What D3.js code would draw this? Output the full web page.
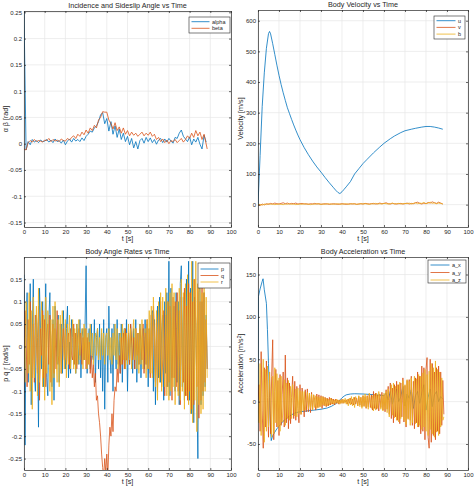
<!DOCTYPE html>
<html><head><meta charset="utf-8">
<script src="https://cdn.jsdelivr.net/npm/d3@7"></script>
<style>body{margin:0;background:#fff} text{font-family:"Liberation Sans",Arial,sans-serif;fill:#262626}</style>
</head><body><svg id="c" width="474" height="489"></svg>
<script>
// ---------- shared ----------
const xTicks = [0,10,20,30,40,50,60,70,80,90,100];
const colors = ["#0072BD","#D95319","#EDB120"];

// ---------- panel 1 : angles (1 s step) ----------
const angleStep = 1;
const alpha = [0.252,-0.012,0.004,-0.002,0.008,0.003,0.006,0.002,0.007,0.004,0.005,0.008,0.003,0.007,0.002,0.009,0.004,0.006,0.001,0.007,-0.002,0.005,0.009,0.003,0.01,0.005,0.008,0.004,0.011,0.006,0.014,0.018,0.024,0.022,0.03,0.034,0.042,0.055,0.059,0.038,0.048,0.024,0.042,0.018,0.034,0.012,0.028,0.008,0.02,0.004,0.014,-0.002,0.01,-0.008,0.004,-0.01,0.006,0.01,0.001,0.012,0.004,0.011,0.002,0.008,-0.001,0.007,0.01,0.002,0.009,0.003,0.01,0.005,0.001,0.012,0.01,0.02,0.026,0.014,0.009,0.004,0.013,-0.002,0.009,0.003,0.012,-0.001,-0.01,0.016,0.003];
const beta = [-0.01,-0.012,0.002,0.006,0.003,0.008,0.004,0.006,0.005,0.003,0.007,0.006,0.01,0.004,0.008,0.005,0.007,0.004,0.009,0.006,0.005,0.01,0.007,0.012,0.015,0.01,0.018,0.014,0.022,0.017,0.026,0.02,0.03,0.025,0.035,0.03,0.045,0.05,0.061,0.06,0.06,0.045,0.038,0.028,0.04,0.025,0.032,0.02,0.03,0.018,0.025,0.015,0.022,0.016,0.02,0.014,0.018,0.022,0.015,0.02,0.016,0.022,0.014,0.018,0.008,0.012,0.004,0.009,0.002,0.007,0.0,0.006,0.004,0.008,0.002,0.006,0.01,0.003,0.008,0.015,0.01,0.02,0.012,0.025,0.015,0.022,0.008,0.018,-0.01];
const angleYTicks = [-0.15,-0.1,-0.05,0,0.05,0.1,0.15,0.2,0.25];

// ---------- panel 2 : velocity ----------
const uTime = [0,1,2,3,4,5,5.5,6,7,8,9,10,11,12,13,14,15,16,17,18,19,20,22,24,26,28,30,32,34,36,37,38,39,40,41,42,44,46,48,50,52,55,58,60,63,65,68,70,73,75,78,80,82,84,86,88];
const uVel = [0,160,320,430,510,558,565,557,525,490,455,422,392,365,340,316,297,278,260,243,227,212,186,163,142,123,106,88,71,55,47,40,36,42,50,58,75,100,117,134,148,169,188,200,215,224,235,241,246,249,253,255,255,253,250,246];
const velStep = 1;
const vVel = [0,-3,2,-1,3,1,4,2,5,3,2,4,6,3,5,2,4,3,5,2,3,4,2,3,1,3,2,4,2,3,1,2,3,2,1,2,3,2,1,2,3,2,1,2,3,2,3,1,2,3,2,4,3,2,3,4,2,3,5,3,4,6,3,2,4,3,2,3,4,2,3,5,2,4,3,6,8,4,2,5,3,7,5,9,6,4,8,5,2];
const bVel = [0,1,-2,2,0,3,1,2,0,1,2,1,0,2,1,3,1,2,0,1,2,1,3,1,2,0,2,1,3,2,1,2,1,3,2,2,1,2,3,1,2,2,3,1,2,3,2,1,2,3,2,3,2,1,3,2,4,2,3,2,4,3,2,3,5,2,3,4,2,3,4,3,5,2,4,6,3,5,4,7,3,5,8,4,6,3,5,4,2];
const velYTicks = [0,100,200,300,400,500,600];

// ---------- panel 3 : angle rates (0.5 s step) ----------
const rateStep = 0.5;
const pRate = [0.16,-0.22,0.05,0.12,-0.08,-0.02,0.14,-0.13,0.03,0.15,
-0.06,-0.1,0.07,0.02,-0.18,0.13,0.04,-0.05,0.1,-0.09,
0.01,0.14,-0.07,-0.11,0.06,0.12,-0.03,-0.09,0.06,-0.12,
0.09,0.02,-0.04,0.07,-0.08,0.01,0.05,-0.06,0.08,-0.02,
-0.05,0.04,0.09,-0.07,0.01,-0.06,0.06,0.02,-0.04,0.03,
-0.06,0.05,0.01,-0.04,0.06,-0.07,0.02,0.04,-0.03,0.05,
0.18,-0.06,0.01,0.04,-0.05,0.05,-0.02,-0.03,0.06,-0.08,
0.02,0.04,-0.05,0.05,-0.07,0.03,-0.1,0.06,-0.14,0.02,
0.04,-0.08,0.09,-0.02,-0.06,0.04,-0.1,0.05,0.01,-0.05,
0.06,-0.04,0.03,-0.06,0.05,-0.08,0.02,0.04,-0.05,0.06,
-0.1,0.03,-0.04,0.05,0.01,-0.06,0.04,-0.05,0.06,-0.08,
0.03,-0.04,0.05,-0.07,0.02,0.04,-0.05,0.06,-0.04,0.05,
-0.09,0.04,-0.06,0.07,0.08,-0.1,0.06,-0.13,0.02,0.09,
-0.07,0.11,-0.08,0.03,0.07,-0.12,0.1,-0.06,0.12,-0.09,
0.19,-0.11,0.13,-0.07,0.02,0.09,-0.1,0.12,-0.08,0.1,
-0.13,0.14,0.18,-0.09,0.11,-0.12,-0.04,0.15,-0.1,0.19,
-0.12,0.13,-0.15,0.19,-0.17,0.11,0.05,-0.1,-0.25,0.12,
0.14,-0.13,0.1,-0.11,0.12,-0.09,0.07,-0.05];
const qRate = [-0.05,0.08,0.02,-0.09,0.06,-0.04,0.1,0.03,-0.07,0.05,
-0.08,0.07,0.01,-0.06,0.09,-0.12,0.04,-0.02,0.08,-0.07,
0.06,-0.09,0.03,0.05,-0.04,0.07,-0.08,0.02,0.05,-0.06,
0.04,-0.05,0.08,-0.02,-0.04,0.05,-0.06,0.01,0.04,-0.03,
0.05,-0.04,0.02,0.03,-0.05,0.04,-0.02,-0.03,0.05,-0.04,
0.03,-0.05,0.02,0.04,-0.02,0.03,-0.04,0.02,-0.03,0.04,
-0.05,0.02,-0.04,0.01,-0.06,-0.02,-0.07,-0.04,-0.09,-0.06,
-0.12,-0.11,-0.15,-0.17,-0.2,-0.24,-0.27,-0.29,-0.25,-0.28,
-0.24,-0.29,-0.22,-0.18,-0.2,-0.15,-0.19,-0.12,-0.09,-0.1,
-0.05,-0.08,-0.02,-0.06,0.02,-0.04,0.03,-0.05,0.04,-0.03,
-0.03,0.03,-0.04,0.05,0.01,-0.03,0.02,-0.05,0.04,-0.02,
0.03,-0.04,0.04,0.01,-0.03,0.05,-0.06,0.03,-0.04,0.06,
-0.05,0.04,-0.07,0.07,-0.06,0.09,0.02,-0.08,0.06,-0.1,
0.08,-0.07,0.1,-0.09,-0.03,0.08,-0.11,0.07,-0.09,0.1,
-0.08,0.09,0.03,-0.12,0.11,-0.07,0.1,-0.09,0.12,-0.1,
0.08,-0.13,0.11,-0.04,-0.08,0.13,-0.11,0.09,-0.12,0.14,
-0.1,0.12,-0.14,0.1,-0.13,0.15,0.04,-0.09,0.13,-0.16,
0.1,-0.12,0.14,-0.1,0.12,-0.08,0.06,-0.05];
const rRate = [0.02,-0.08,0.1,0.04,-0.06,0.12,-0.1,0.08,-0.14,0.11,
-0.07,0.02,0.09,-0.11,0.13,-0.08,-0.02,0.1,-0.09,0.07,
-0.12,0.11,-0.06,0.08,0.03,-0.1,0.06,-0.13,0.09,-0.07,
0.1,-0.02,-0.08,0.06,-0.09,0.07,-0.06,0.08,0.01,-0.05,
0.06,-0.07,0.05,-0.04,0.07,-0.05,0.01,0.06,-0.05,0.04,
-0.06,0.05,-0.04,0.06,-0.03,0.02,0.04,-0.05,0.05,-0.03,
0.04,-0.05,0.03,-0.04,0.05,-0.02,0.03,-0.04,0.01,0.03,
-0.02,0.04,-0.03,0.02,-0.03,0.04,-0.02,0.03,-0.04,0.02,
0.03,-0.02,0.04,-0.03,0.02,-0.04,0.03,-0.02,0.05,-0.03,
0.04,-0.05,0.01,0.03,-0.04,0.05,-0.03,0.04,-0.05,0.03,
-0.04,0.05,-0.03,0.04,-0.05,0.03,0.06,-0.03,0.04,-0.05,
0.03,-0.06,0.05,-0.04,0.06,-0.05,0.02,0.04,-0.07,0.06,
-0.05,0.08,-0.06,0.09,-0.07,0.11,0.03,-0.09,0.08,-0.12,
0.1,-0.08,0.12,-0.1,0.11,-0.03,-0.09,0.13,-0.11,0.1,
-0.12,0.12,-0.1,0.14,-0.09,0.12,-0.13,0.04,0.1,-0.11,
0.13,-0.12,0.15,-0.1,0.12,-0.14,0.14,-0.11,0.16,-0.13,
0.12,-0.15,0.19,-0.17,0.15,-0.12,0.19,-0.19,0.14,-0.13,
0.16,-0.15,0.12,-0.14,0.13,-0.1,0.11,-0.07];
const rateYTicks = [-0.25,-0.2,-0.15,-0.1,-0.05,0,0.05,0.1,0.15];

// ---------- panel 4 : acceleration ----------
const axTime = [0,0.2,1,2,2.4,3,4,4.5,5,5.5,6,6.3,7,8,9,10,11,12,14,16,18,20,25,30,33,35,37,38,39,40,41,42,44,46,50,55,60,61,62,63,64,65,66,67,68,69,70,71,72,73,74,75,76,77,78,79,80,81,82,83,84,85,86,87,88];
const axAcc = [0,124,133,142,145,132,116,85,45,5,-35,-46,-40,-36,-32,-29,-26,-23,-19,-15.5,-13,-12,-10.5,-9,-7.5,-5.5,-2.5,-0.5,2,4.5,6.5,8,9,9.3,9,8.3,7,10,2,12,-3,8,15,0,6,18,-5,9,4,14,-8,7,12,-2,10,20,-10,5,15,-6,8,12,0,6,3];
const accStep = 0.5;
const ayAcc = [0,20,-35,59,-10,-55,40,-30,48,5,
-42,35,-38,30,73,-45,12,38,-30,25,
-40,32,-28,8,35,-30,55,-25,28,-32,
22,-26,5,30,-20,24,-22,18,-8,-25,
20,-15,16,3,-18,14,-12,15,-12,10,
-13,11,-9,8,2,-10,9,-7,8,-6,
7,-8,6,-5,5,-6,4,-5,5,-4,
4,-3,3,-4,3,-2,2,-3,2,-2,
3,-2,2,-1,2,-3,3,-2,4,-3,
3,-4,5,-3,4,-5,6,-4,5,-6,
7,-5,6,-8,7,-6,9,-7,8,-10,
12,-8,10,-9,8,-11,9,-7,11,-10,
8,-12,14,-9,18,-15,22,-20,16,-25,
20,-18,24,-22,20,-26,22,-18,28,-24,
19,-30,25,-20,26,-22,30,-28,24,-32,
28,-25,35,-30,30,-38,42,-35,40,-45,
38,52,-42,-55,50,-48,45,-40,35,-45,
40,-35,42,-38,35,-28,25,-15];
const azAcc = [0,-25,45,-40,8,50,-48,38,-35,42,
-30,35,5,-42,30,-38,40,-25,33,-30,
28,-35,30,-24,-5,26,-28,22,-20,25,
-22,18,-20,20,3,-17,15,-18,16,-14,
13,-15,12,-11,12,-10,2,11,-9,10,
-8,9,-10,8,-7,7,-8,6,-7,5,
-6,6,-4,5,-5,4,-5,3,-4,4,
-3,3,-3,2,-2,3,-2,2,-3,2,
-2,3,-2,4,-3,3,-5,4,-4,6,
-5,5,-7,6,1,-5,7,-6,5,-8,
7,-6,9,-7,6,-9,10,2,-8,7,
-11,9,-10,10,-8,12,3,-9,8,-11,
10,-9,12,-13,15,-18,4,20,-16,22,
-19,18,-22,20,-24,23,-20,5,25,-22,
20,-27,26,-21,24,-28,28,-25,6,30,
-26,27,-30,32,-28,30,-33,34,-30,38,
-35,32,-40,36,-33,45,-38,40,-42,48,
-36,38,-40,35,-30,28,-22,-18];
const accYTicks = [-50,0,50,100,150];

// ---------- drawing ----------
const svg = d3.select("#c");
const fmt = d => String(+(+d).toFixed(4));
const stepTimes = (arr, step) => arr.map((_, i) => i * step);
let clipId = 0;

function panel(o) {
  const x = d3.scaleLinear().domain([0, 100]).range([o.left, o.right]);
  const y = d3.scaleLinear().domain(o.yDomain).range([o.bottom, o.top]);
  const g = svg.append("g");
  // grid
  g.append("g").selectAll("line").data(xTicks).join("line")
    .attr("x1", d => x(d)).attr("x2", d => x(d)).attr("y1", o.top).attr("y2", o.bottom)
    .attr("stroke", "#e6e6e6").attr("stroke-width", 0.7);
  g.append("g").selectAll("line").data(o.yTicks).join("line")
    .attr("y1", d => y(d)).attr("y2", d => y(d)).attr("x1", o.left).attr("x2", o.right)
    .attr("stroke", "#e6e6e6").attr("stroke-width", 0.7);
  // data
  const id = "clip" + (clipId++);
  svg.append("clipPath").attr("id", id).append("rect")
    .attr("x", o.left).attr("y", o.top).attr("width", o.right - o.left).attr("height", o.bottom - o.top);
  const dg = g.append("g").attr("clip-path", `url(#${id})`);
  o.series.forEach(s => {
    const pts = s.y.map((v, i) => [s.t[i], v]);
    dg.append("path").datum(pts)
      .attr("d", d3.line().x(d => x(d[0])).y(d => y(d[1])))
      .attr("fill", "none").attr("stroke", s.color).attr("stroke-width", 0.8)
      .attr("stroke-linejoin", "round");
  });
  // axes
  const styleAxis = sel => {
    sel.select(".domain").attr("stroke", "#262626").attr("stroke-width", 0.7);
    sel.selectAll(".tick line").attr("stroke", "#262626").attr("stroke-width", 0.7);
    sel.selectAll("text").attr("font-size", 6).attr("font-family", "Liberation Sans, Arial, sans-serif").attr("fill", "#262626");
  };
  g.append("g").attr("transform", `translate(0,${o.bottom})`)
    .call(d3.axisBottom(x).tickValues(xTicks).tickFormat(fmt).tickSizeInner(-2).tickSizeOuter(0).tickPadding(2.5)).call(styleAxis);
  g.append("g").attr("transform", `translate(0,${o.top})`)
    .call(d3.axisTop(x).tickValues(xTicks).tickFormat("").tickSizeInner(-2).tickSizeOuter(0)).call(styleAxis);
  g.append("g").attr("transform", `translate(${o.left},0)`)
    .call(d3.axisLeft(y).tickValues(o.yTicks).tickFormat(fmt).tickSizeInner(-2).tickSizeOuter(0).tickPadding(2)).call(styleAxis);
  g.append("g").attr("transform", `translate(${o.right},0)`)
    .call(d3.axisRight(y).tickValues(o.yTicks).tickFormat("").tickSizeInner(-2).tickSizeOuter(0)).call(styleAxis);
  // title & labels
  const cx = (o.left + o.right) / 2;
  g.append("text").attr("x", cx).attr("y", o.top - 3).attr("text-anchor", "middle")
    .attr("font-size", 7.2).text(o.title);
  g.append("text").attr("x", cx).attr("y", o.bottom + 14).attr("text-anchor", "middle")
    .attr("font-size", 7.2).text("t [s]");
  const yl = g.append("text").attr("transform", `translate(${o.ylabelX},${(o.top + o.bottom) / 2}) rotate(-90)`)
    .attr("text-anchor", "middle").attr("font-size", 7.2);
  o.ylabel(yl);
  // legend
  const L = o.legend;
  const lg = g.append("g");
  lg.append("rect").attr("x", L.x).attr("y", L.y).attr("width", L.w).attr("height", L.h)
    .attr("fill", "#fff").attr("stroke", "#262626").attr("stroke-width", 0.6);
  L.labels.forEach((lab, i) => {
    const yy = L.y + L.pad + i * L.dy;
    lg.append("line").attr("x1", L.x + 2.5).attr("x2", L.x + 2.5 + L.len).attr("y1", yy).attr("y2", yy)
      .attr("stroke", colors[i]).attr("stroke-width", 0.8);
    lg.append("text").attr("x", L.x + 5 + L.len).attr("y", yy + 2).attr("font-size", 5.5).text(lab);
  });
}

panel({
  left: 24, right: 231, top: 11, bottom: 227, yDomain: [-0.1585, 0.2525], yTicks: angleYTicks,
  title: "Incidence and Sideslip Angle vs Time", ylabelX: 8,
  ylabel: t => t.text("\u03b1  \u03b2 [rad]"),
  series: [
    {t: stepTimes(alpha, angleStep), y: alpha, color: colors[0]},
    {t: stepTimes(beta, angleStep).map((v, i) => i === beta.length - 1 ? 88.5 : v), y: beta, color: colors[1]}
  ],
  legend: {x: 189, y: 17, w: 41, h: 16, pad: 4.7, dy: 6.6, len: 18, labels: ["alpha", "beta"]}
});

panel({
  left: 258, right: 468, top: 10, bottom: 227, yDomain: [-73, 635], yTicks: velYTicks,
  title: "Body Velocity vs Time", ylabelX: 243,
  ylabel: t => t.text("Velocity [m/s]"),
  series: [
    {t: uTime, y: uVel, color: colors[0]},
    {t: stepTimes(vVel, velStep), y: vVel, color: colors[1]},
    {t: stepTimes(bVel, velStep), y: bVel, color: colors[2]}
  ],
  legend: {x: 434, y: 16, w: 31, h: 23, pad: 4.7, dy: 6.7, len: 19, labels: ["u", "v", "b"]}
});

panel({
  left: 24, right: 231, top: 257, bottom: 470, yDomain: [-0.2755, 0.1995], yTicks: rateYTicks,
  title: "Body Angle Rates vs Time", ylabelX: 8,
  ylabel: t => t.text("p q r [rad/s]"),
  series: [
    {t: stepTimes(pRate, rateStep), y: pRate, color: colors[0]},
    {t: stepTimes(qRate, rateStep), y: qRate, color: colors[1]},
    {t: stepTimes(rRate, rateStep), y: rRate, color: colors[2]}
  ],
  legend: {x: 198, y: 263, w: 32, h: 25, pad: 6, dy: 6.5, len: 18, labels: ["p", "q", "r"]}
});

panel({
  left: 258, right: 468, top: 257, bottom: 470, yDomain: [-80.7, 170.7], yTicks: accYTicks,
  title: "Body Acceleration vs Time", ylabelX: 243,
  ylabel: t => { t.text("Acceleration [m/s"); t.append("tspan").attr("dy", -2.5).attr("font-size", 5).text("2"); t.append("tspan").attr("dy", 2.5).text("]"); },
  series: [
    {t: axTime, y: axAcc, color: colors[0]},
    {t: stepTimes(ayAcc, accStep), y: ayAcc, color: colors[1]},
    {t: stepTimes(azAcc, accStep), y: azAcc, color: colors[2]}
  ],
  legend: {x: 428, y: 260, w: 38, h: 23, pad: 5, dy: 7.5, len: 19, labels: ["a_x", "a_y", "a_z"]}
});
</script></body></html>
